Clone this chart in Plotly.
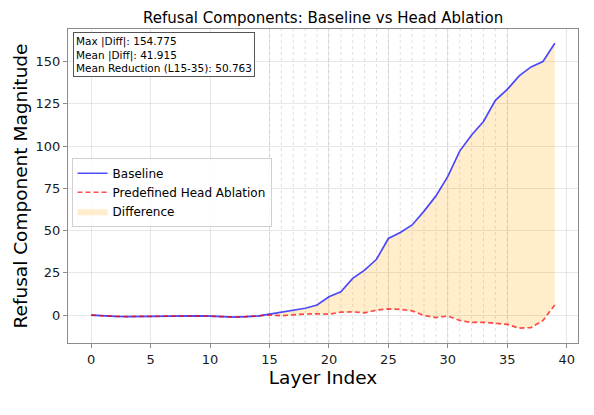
import plotly.graph_objects as go

# Refusal component magnitude per layer
layers = list(range(40))
baseline = [0.0, -0.5, -0.8, -0.9, -0.8, -0.6, -0.5, -0.4, -0.4, -0.5,
            -0.7, -1.0, -1.2, -1.0, -0.6, 0.5, 1.6, 2.8, 4.0, 5.9,
            10.8, 13.8, 21.7, 26.6, 33.0, 45.3, 48.8, 53.3, 61.5, 70.5,
            82.0, 97.0, 106.5, 114.5, 127.0, 133.5, 141.5, 146.8, 150.0, 160.8]
ablation = [0.0, -0.5, -0.8, -0.9, -0.8, -0.6, -0.5, -0.4, -0.4, -0.5,
            -0.7, -1.0, -1.2, -1.0, -0.6, 0.0, -0.4, 0.2, 0.6, 0.7,
            0.5, 1.7, 1.9, 1.3, 2.9, 3.6, 3.3, 2.5, -0.3, -1.5,
            -0.6, -3.2, -4.4, -4.3, -4.8, -5.5, -7.8, -7.4, -3.3, 6.0]
highlight_layers = list(range(15, 36))
x_ticks = [0, 5, 10, 15, 20, 25, 30, 35, 40]
y_ticks = [0, 25, 50, 75, 100, 125, 150]
stats_text = "Max |Diff|: 154.775<br>Mean |Diff|: 41.915<br>Mean Reduction (L15-35): 50.763"

FONT = "DejaVu Sans"

fig = go.Figure()

# shaded difference between the two curves
fig.add_trace(go.Scatter(x=layers, y=ablation, mode='lines', line=dict(width=0),
                         showlegend=False, hoverinfo='skip'))
fig.add_trace(go.Scatter(x=layers, y=baseline, mode='lines', line=dict(width=0),
                         fill='tonexty', fillcolor='rgba(255,165,0,0.2)',
                         name='Difference', legendrank=3))

fig.add_trace(go.Scatter(x=layers, y=baseline, mode='lines', name='Baseline',
                         line=dict(color='rgba(0,0,255,0.7)', width=1.7), legendrank=1))
fig.add_trace(go.Scatter(x=layers, y=ablation, mode='lines', name='Predefined Head Ablation',
                         line=dict(color='rgba(255,0,0,0.7)', width=1.7, dash='5px,3px'),
                         legendrank=2))

for l in highlight_layers:
    fig.add_vline(x=l, line=dict(color='rgba(128,128,128,0.25)', width=1, dash='dot'),
                  layer='below')

fig.add_annotation(text=stats_text, xref='paper', yref='paper', x=0.009, y=0.99,
                   xanchor='left', yanchor='top', align='left', showarrow=False,
                   font=dict(family=FONT, size=10.5, color='black'),
                   bgcolor='white', bordercolor='#555555', borderwidth=1, borderpad=2)

axis_common = dict(showline=True, linecolor='#8c8c8c', linewidth=1, mirror=True,
                   showgrid=True, gridcolor='rgba(176,176,176,0.3)', gridwidth=1,
                   ticks='outside', ticklen=4, tickcolor='#8c8c8c', zeroline=False,
                   automargin=False,
                   tickfont=dict(family=FONT, size=13, color='#1a1a1a'))

fig.update_layout(
    width=594, height=415,
    margin=dict(l=68, r=16, t=29, b=72),
    paper_bgcolor='white', plot_bgcolor='white',
    title=dict(text='Refusal Components: Baseline vs Head Ablation', x=0.544, xanchor='center',
               y=0.957, yanchor='middle', font=dict(family=FONT, size=15, color='black'),
               automargin=False),
    xaxis=dict(title=dict(text='Layer Index', font=dict(family=FONT, size=18.5, color='black'),
                          standoff=0),
               range=[-1.95, 40.95], tickvals=x_ticks, **axis_common),
    yaxis=dict(title=dict(text='Refusal Component Magnitude',
                          font=dict(family=FONT, size=18.5, color='black'), standoff=3),
               range=[-16.55, 169.25], tickvals=y_ticks, **axis_common),
    legend=dict(x=0.007, y=0.59, xanchor='left', yanchor='top', traceorder='normal',
                bgcolor='rgba(255,255,255,0.85)', bordercolor='#d0d0d0', borderwidth=1,
                font=dict(family=FONT, size=12, color='black'), tracegroupgap=0),
    showlegend=True,
)

# drop the browser's default 8px body margin so the figure sits at the page corner
fig.write_html("out.html", config={'displayModeBar': False},
               post_script="document.body.style.margin='0';")
